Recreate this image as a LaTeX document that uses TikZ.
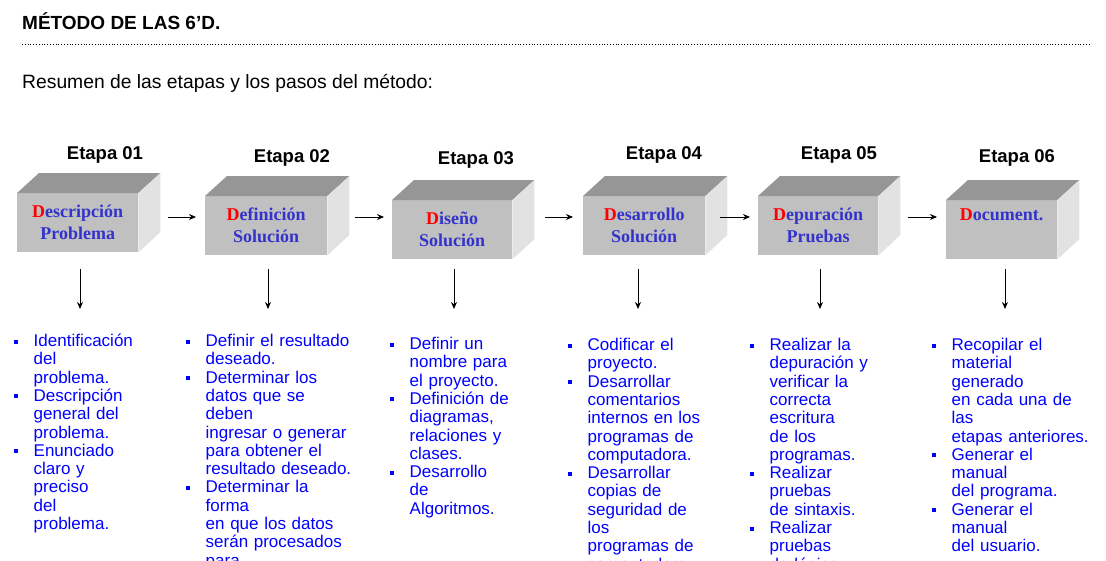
\documentclass[tikz,border=0pt]{standalone}
\usepackage{fontspec}
\setmainfont{Liberation Sans}
\newfontfamily\serifb{Liberation Serif}
\definecolor{txtblue}{HTML}{0000FF}
\definecolor{boxblue}{HTML}{3333CC}
\definecolor{frontc}{HTML}{C0C0C0}
\definecolor{topc}{HTML}{969696}
\definecolor{sidec}{HTML}{E2E2E2}
\newcommand\colsetup{\tolerance=10000\hbadness=10000\hfuzz=50pt\hyphenpenalty=10000\parindent=0pt\rightskip=0pt\leftskip=0pt\relax}
\newcommand\itm[1]{\par\noindent\hangindent=19.5pt\hangafter=1\makebox[19.5pt][l]{\raisebox{3pt}{\rule{4pt}{4pt}}}#1\par}
\newcommand\RD{\textcolor{red}{D}}
\usetikzlibrary{arrows.meta}
\tikzset{
 front/.style={fill=frontc,draw=none,anchor=north west,minimum height=59pt,align=center,inner sep=0pt,
   font=\serifb\bfseries\fontsize{18}{22}\selectfont,text=boxblue},
 etapa/.style={font=\bfseries\fontsize{18.5}{20}\selectfont},
 col/.style={anchor=north west,inner sep=0pt,text=txtblue,
   font=\fontsize{17}{18.3}\selectfont},
 arr/.style={-{Stealth[length=7pt,width=6pt]},thick}
}
\newcommand\cube[5]{% name, x, y, width, text
 \node[front,minimum width=#4pt] (#1) at (#2,#3) {#5};
 \fill[topc] (#1.north west) -- ++(22,-20) -- ([xshift=22pt,yshift=20pt]#1.north east) -- (#1.north east) -- cycle;
 \fill[sidec] (#1.north east) -- ++(22,-20) -- ++(0,59) -- (#1.south east) -- cycle;
}
\begin{document}
\begin{tikzpicture}[x=1pt,y=-1pt]
\useasboundingbox (0,0) rectangle (1106,560);
\node[anchor=west,inner sep=0pt,font=\bfseries\fontsize{19}{20}\selectfont] (title) at (22,21) {MÉTODO DE LAS 6’D.};
\coordinate (l1) at (22,44); \coordinate (l2) at (1090,44);
\draw[dotted,line width=0.8pt] (l1) -- (l2);
\node[anchor=west,inner sep=0pt,font=\fontsize{19.3}{20}\selectfont] (res) at (22,83) {Resumen de las etapas y los pasos del método:};

\cube{b1}{17}{193}{121}{\RD escripción\\Problema}
\cube{b2}{205}{196}{122}{\RD efinición\\Solución}
\cube{b3}{392}{200}{120}{\RD iseño\\Solución}
\cube{b4}{583}{196}{122}{\RD esarrollo\\Solución}
\cube{b5}{758}{196}{120}{\RD epuración\\Pruebas}
\cube{b6}{946}{200}{111}{\RD ocument.\\[8pt]}

\node[etapa] (e1) at (105,155) {Etapa 01};
\node[etapa] (e2) at (292,158) {Etapa 02};
\node[etapa] (e3) at (476,160) {Etapa 03};
\node[etapa] (e4) at (664,155) {Etapa 04};
\node[etapa] (e5) at (839,155) {Etapa 05};
\node[etapa] (e6) at (1017,158) {Etapa 06};

\coordinate (h1a) at (168,217); \coordinate (h1b) at (196,217);
\coordinate (h2a) at (355,217); \coordinate (h2b) at (384,217);
\coordinate (h3a) at (545,217); \coordinate (h3b) at (573,217);
\coordinate (h4a) at (720,217); \coordinate (h4b) at (750,217);
\coordinate (h5a) at (908,217); \coordinate (h5b) at (937,217);
\foreach \i in {1,...,5}{\draw[arr] (h\i a) -- (h\i b);}

\foreach \i/\x in {1/80,2/268,3/454,4/638,5/820,6/1005}{
 \coordinate (v\i a) at (\x,269); \coordinate (v\i b) at (\x,309);
 \draw[arr] (v\i a) -- (v\i b);}

\node[col,text width=121pt] (c1) at (14,328) {\colsetup
\itm{Identificación\linebreak del problema.}
\itm{Descripción\linebreak general del\linebreak problema.}
\itm{Enunciado\linebreak claro y preciso\linebreak del problema.}};
\node[col,text width=166pt] (c2) at (186,328) {\colsetup
\itm{Definir el resultado\linebreak deseado.}
\itm{Determinar los\linebreak datos que se deben\linebreak ingresar o generar\linebreak para obtener el\linebreak resultado deseado.}
\itm{Determinar la forma\linebreak en que los datos\linebreak serán procesados\linebreak para transformarlos\linebreak en información.}};
\node[col,text width=120pt] (c3) at (390,331) {\colsetup
\itm{Definir un\linebreak nombre para\linebreak el proyecto.}
\itm{Definición de\linebreak diagramas,\linebreak relaciones y\linebreak clases.}
\itm{Desarrollo de\linebreak Algoritmos.}};
\node[col,text width=145pt] (c4) at (568,332) {\colsetup
\itm{Codificar el\linebreak proyecto.}
\itm{Desarrollar\linebreak comentarios\linebreak internos en los\linebreak programas de\linebreak computadora.}
\itm{Desarrollar\linebreak copias de\linebreak seguridad de los\linebreak programas de\linebreak computadora.}};
\node[col,text width=144pt] (c5) at (750,332) {\colsetup
\itm{Realizar la\linebreak depuración y\linebreak verificar la\linebreak correcta escritura\linebreak de los\linebreak programas.}
\itm{Realizar pruebas\linebreak de sintaxis.}
\itm{Realizar pruebas\linebreak de lógica.}};
\node[col,text width=157pt] (c6) at (932,332) {\colsetup
\itm{Recopilar el\linebreak material generado\linebreak en cada una de las\linebreak etapas anteriores.}
\itm{Generar el manual\linebreak del programa.}
\itm{Generar el manual\linebreak del usuario.}};
\end{tikzpicture}
\end{document}
